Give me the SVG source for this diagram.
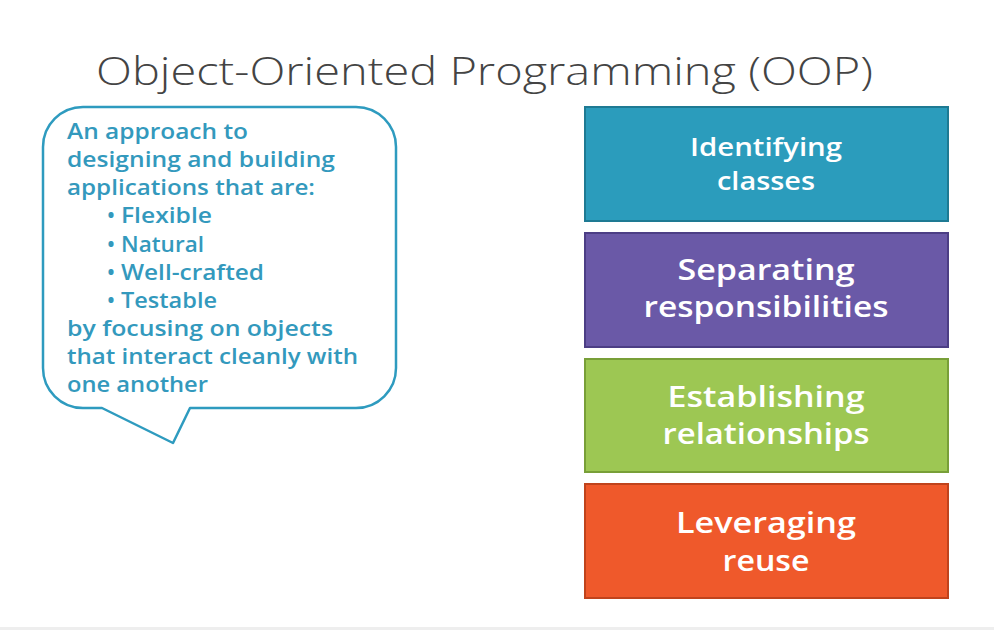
<svg xmlns="http://www.w3.org/2000/svg" width="994" height="630" viewBox="0 0 994 630">
<style>
.title{font-family:"Open Sans","Liberation Sans",sans-serif;font-weight:300;font-size:39px;fill:#444;}
.bt{font-family:"Open Sans","Liberation Sans",sans-serif;font-weight:600;font-size:21px;fill:#3399BD;}
.lbl{font-family:"Open Sans","Liberation Sans",sans-serif;font-weight:600;fill:#fff;text-anchor:middle;}
.box{stroke-width:2;}
</style>
<rect width="994" height="630" fill="#fff"/>
<rect x="0" y="627" width="994" height="3" fill="#eeeeee"/>
<text class="title" x="96" y="85" textLength="777" lengthAdjust="spacingAndGlyphs">Object-Oriented Programming (OOP)</text>
<g id="bubble">
<path d="M85,107 H356 A40,40 0 0 1 396,147 V368 A40,40 0 0 1 356,408 H190 L173,443 L102,408 H83 A40,40 0 0 1 43,368 V147 A40,40 0 0 1 83,107 Z" fill="#fff" stroke="#2E9BBF" stroke-width="2.5" stroke-linejoin="round"/>
<text class="bt" x="67" y="139" textLength="181" lengthAdjust="spacingAndGlyphs">An approach to</text>
<text class="bt" x="67" y="167" textLength="268" lengthAdjust="spacingAndGlyphs">designing and building</text>
<text class="bt" x="67" y="195" textLength="248" lengthAdjust="spacingAndGlyphs">applications that are:</text>
<text class="bt" x="107" y="223">•</text><text class="bt" x="121" y="223" textLength="91" lengthAdjust="spacingAndGlyphs">Flexible</text>
<text class="bt" x="107" y="252">•</text><text class="bt" x="121" y="252" textLength="83" lengthAdjust="spacingAndGlyphs">Natural</text>
<text class="bt" x="107" y="280">•</text><text class="bt" x="121" y="280" textLength="143" lengthAdjust="spacingAndGlyphs">Well-crafted</text>
<text class="bt" x="107" y="308">•</text><text class="bt" x="121" y="308" textLength="96" lengthAdjust="spacingAndGlyphs">Testable</text>
<text class="bt" x="67" y="336" textLength="266" lengthAdjust="spacingAndGlyphs">by focusing on objects</text>
<text class="bt" x="67" y="364" textLength="291" lengthAdjust="spacingAndGlyphs">that interact cleanly with</text>
<text class="bt" x="67" y="392" textLength="141" lengthAdjust="spacingAndGlyphs">one another</text>
</g>
<g id="box1">
<rect class="box" x="585" y="107" width="363" height="114" fill="#2B9CBC" stroke="#1E7A93"/>
<text class="lbl" x="766" y="156" font-size="25.5" textLength="152" lengthAdjust="spacingAndGlyphs">Identifying</text>
<text class="lbl" x="766" y="190" font-size="25.5" textLength="98" lengthAdjust="spacingAndGlyphs">classes</text>
</g>
<g id="box2">
<rect class="box" x="585" y="233" width="363" height="114" fill="#6A59A7" stroke="#4C3E85"/>
<text class="lbl" x="766" y="280" font-size="28.5" textLength="177" lengthAdjust="spacingAndGlyphs">Separating</text>
<text class="lbl" x="766" y="317" font-size="28.5" textLength="245" lengthAdjust="spacingAndGlyphs">responsibilities</text>
</g>
<g id="box3">
<rect class="box" x="585" y="359" width="363" height="113" fill="#9DC753" stroke="#789F38"/>
<text class="lbl" x="766" y="407" font-size="28.5" textLength="197" lengthAdjust="spacingAndGlyphs">Establishing</text>
<text class="lbl" x="766" y="444" font-size="28.5" textLength="207" lengthAdjust="spacingAndGlyphs">relationships</text>
</g>
<g id="box4">
<rect class="box" x="585" y="484" width="363" height="114" fill="#EF592B" stroke="#C0431C"/>
<text class="lbl" x="766" y="533" font-size="28.5" textLength="180" lengthAdjust="spacingAndGlyphs">Leveraging</text>
<text class="lbl" x="766" y="571" font-size="28.5" textLength="87" lengthAdjust="spacingAndGlyphs">reuse</text>
</g>
<g id="connectors"></g>
</svg>
